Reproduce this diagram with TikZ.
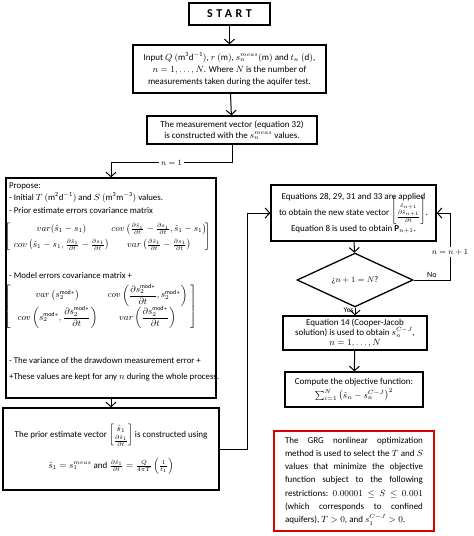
\documentclass[tikz,border=0pt]{standalone}
\usepackage{amsmath}
\usepackage{fontspec}
\setmainfont{Carlito}
\usetikzlibrary{arrows.meta,shapes.geometric,calc}
\tikzset{
  box/.style={draw, line width=1.3pt, align=center, inner sep=2pt, font=\fontsize{9}{11.5}\selectfont},
  arr/.style={line width=1pt, -{Straight Barb[length=4.5pt,width=10pt,line width=1pt]}},
  lbl/.style={fill=white, inner sep=2pt, font=\fontsize{8}{9}\selectfont},
  ptxt/.style={anchor=west, inner sep=0pt, font=\fontsize{8.8}{10}\selectfont},
  pmat/.style={inner sep=0pt, font=\fontsize{8.6}{10}\selectfont},
}
\newcommand{\cellbox}[2]{\makebox[#1][c]{$#2$}}
\begin{document}
\begin{tikzpicture}[x=1pt,y=-1pt]
\useasboundingbox (0,0) rectangle (474,536);
% START
\node[box, line width=1.7pt, minimum width=81pt, minimum height=22pt] (start) at (229.5,14)
  {\fontsize{12}{12}\selectfont\bfseries\addfontfeature{LetterSpace=30}START};
% input
\node[box, minimum width=193pt, minimum height=48pt, font=\fontsize{9}{12}\selectfont] (input) at (229.5,69)
  {Input $Q\ (\mathrm{m^3d^{-1}})$, $r\ (\mathrm{m})$, $s_n^{meas}(\mathrm{m})$ and $t_n\ (\mathrm{d})$,\\
   $n=1,\dots,N$. Where $N$ is the number of\\
   measurements taken during the aquifer test.};
% measurement
\node[box, minimum width=170pt, minimum height=28pt, font=\fontsize{9}{11}\selectfont] (meas) at (232,130)
  {The measurement vector (equation 32)\\ is constructed with the $s_n^{meas}$ values.};
% propose
\node[box, minimum width=210pt, minimum height=220pt] (propose) at (111,288) {};
\node[ptxt] (p1) at (9,186) {Propose:};
\node[ptxt] (p2) at (9,198) {- Initial $T\ (\mathrm{m^2d^{-1}})$ and $S\ (\mathrm{m^3m^{-3}})$ values.};
\node[ptxt] (p3) at (9,210) {- Prior estimate errors covariance matrix};
\node[pmat] (m1) at (107.5,237)
  {$\setlength{\arraycolsep}{0pt}\left[\begin{array}{cc}
     \cellbox{103pt}{var(\hat{s}_1-s_1)} & \cellbox{92pt}{cov\left(\frac{\partial\hat{s}_1}{\partial t}-\frac{\partial s_1}{\partial t},\hat{s}_1-s_1\right)}\\[4pt]
     \cellbox{103pt}{cov\left(\hat{s}_1-s_1,\frac{\partial\hat{s}_1}{\partial t}-\frac{\partial s_1}{\partial t}\right)} & \cellbox{92pt}{var\left(\frac{\partial\hat{s}_1}{\partial t}-\frac{\partial s_1}{\partial t}\right)}
   \end{array}\right]$};
\node[ptxt] (p4) at (9,275) {- Model errors covariance matrix +};
\node[pmat] (m2) at (100.5,306.5)
  {$\setlength{\arraycolsep}{0pt}\left[\begin{array}{cc}
     \cellbox{94pt}{var\left(s_2^{\mathrm{mod}*}\right)} & \cellbox{86pt}{cov\left(\dfrac{\partial s_2^{\mathrm{mod}*}}{\partial t},s_2^{\mathrm{mod}*}\right)}\\[3pt]
     \cellbox{94pt}{cov\left(s_2^{\mathrm{mod}*},\dfrac{\partial s_2^{\mathrm{mod}*}}{\partial t}\right)} & \cellbox{86pt}{var\left(\dfrac{\partial s_2^{\mathrm{mod}*}}{\partial t}\right)}
   \end{array}\right]$};
\node[ptxt] (p5) at (9,360) {- The variance of the drawdown measurement error +};
\node[ptxt] (p6) at (9,377) {+These values are kept for any $n$ during the whole process.};
% prior
\node[box, minimum width=216pt, minimum height=82pt] (prior) at (111,449)
  {The prior estimate vector $\left[\begin{array}{@{}c@{}}\hat{s}_1\\ \frac{\partial\hat{s}_1}{\partial t}\end{array}\right]$ is constructed using\\[10pt]
   $\hat{s}_1=s_1^{meas}$ and $\frac{\partial\hat{s}_1}{\partial t}=\frac{Q}{4\pi T}\left(\frac{1}{t_1}\right)$};
% equations
\node[box, minimum width=165pt, minimum height=56pt, font=\fontsize{9}{16}\selectfont] (equations) at (353.5,213)
  {Equations 28, 29, 31 and 33 are applied\\
   to obtain the new state vector \smash{\raisebox{2.5pt}{$\renewcommand{\arraystretch}{0.8}\left[\begin{array}{@{}c@{}}\scriptstyle\hat{s}_{n+1}\\[-1pt] \frac{\partial\hat{s}_{n+1}}{\partial t}\end{array}\right]$}}.\\
   Equation 8 is used to obtain $\mathbf{P}_{n+1}$.};
% diamond
\node[draw, diamond, line width=1.3pt, minimum width=116pt, minimum height=26pt, inner sep=0pt,
      font=\fontsize{8.5}{10}\selectfont] (dia) at (355,280) {¿$n+1=N$?};
% eq14
\node[box, minimum width=144pt, minimum height=34pt, font=\fontsize{9}{9.8}\selectfont] (eq14) at (355,333)
  {Equation 14 (Cooper-Jacob\\ solution) is used to obtain $s_n^{C-J}$,\\ $n=1,\dots,N$};
% objective
\node[box, minimum width=138pt, minimum height=35pt, font=\fontsize{9}{14}\selectfont] (obj) at (354,389.5)
  {Compute the objective function:\\ $\sum_{i=1}^{N}\left(\hat{s}_n-s_n^{C-J}\right)^2$};
% red box
\node[draw=red!85!black, line width=1.6pt, minimum width=160pt, minimum height=100pt,
      text width=138pt, align=justify, font=\fontsize{9}{13.3}\selectfont] (grg) at (354,481)
  {The GRG nonlinear optimization\linebreak method is used to select the $T$ and $S$\linebreak values that minimize the objective\linebreak function subject to the following\linebreak restrictions: $0.00001\le S\le 0.001$\linebreak (which corresponds to confined\linebreak aquifers), $T>0$, and $s_1^{C-J}>0$.};
% connectors
\draw[arr] (start) -- (input);
\draw[arr] (input) -- (meas);
\draw[arr] (meas.south) -- ++(0,18) coordinate (c1) -| node[pos=0.25, lbl] {$n=1$} (propose.north);
\draw[arr] (propose) -- (prior);
\coordinate (c2) at (247,449);
\draw[arr] (prior.east) -- (c2) |- (equations.west);
\draw[arr] (equations) -- (dia);
\coordinate (c3) at (450,280);
\draw[arr] (dia.east) -- node[above, inner sep=2pt, font=\fontsize{8}{9}\selectfont] {No} (c3) |- node[pos=0.21, lbl] {$n=n+1$} (equations.east);
\draw[arr] (dia.south) -- node[pos=0.3, left, inner sep=1pt, font=\fontsize{7.5}{8}\selectfont] {Yes} (eq14.north);
\draw[arr] (eq14) -- (obj);
\end{tikzpicture}
\end{document}
